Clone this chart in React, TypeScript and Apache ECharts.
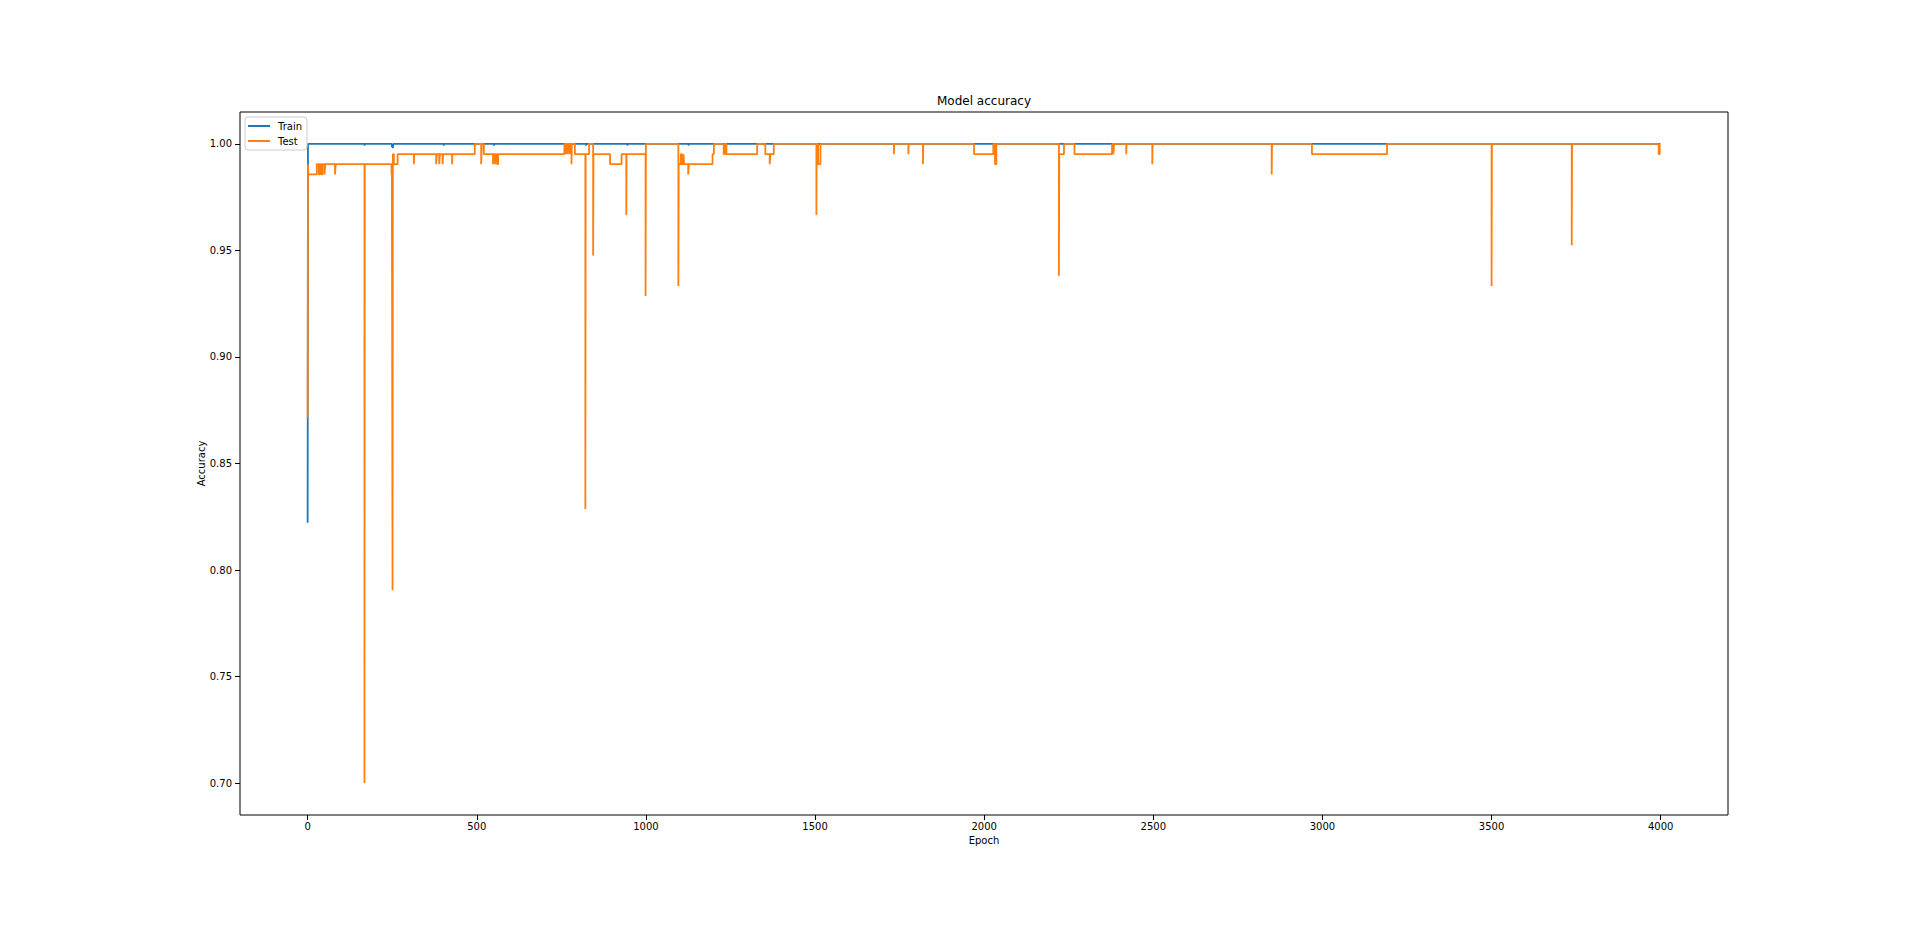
import React, { useEffect, useRef } from 'react';
import * as echarts from 'echarts';

// Tick positions
const xTicks = [0, 500, 1000, 1500, 2000, 2500, 3000, 3500, 4000];
const yTicks = [0.7, 0.75, 0.8, 0.85, 0.9, 0.95, 1.0];

// Train accuracy: [epoch, value] change points (value holds until next point)
const trainSteps: [number, number][] = [
  [0, 0.8222], [1, 1.0], [168, 0.9992], [169, 1.0], [249, 0.9985], [250, 1.0],
  [252, 0.998], [253, 1.0], [402, 0.9992], [403, 1.0], [551, 0.9992], [552, 1.0],
  [823, 0.9993], [824, 1.0], [945, 0.9993], [946, 1.0], [1126, 0.9993], [1127, 1.0],
  [3999, 1.0],
];

// Test accuracy: [epoch, value] change points (value holds until next point)
const testSteps: [number, number][] = [
  [0, 0.8714], [1, 0.9905], [2, 0.9857], [27, 0.9905], [33, 0.9857], [36, 0.9905],
  [41, 0.9857], [44, 0.9905], [50, 0.9857], [52, 0.9905], [81, 0.9857], [83, 0.9905],
  [168, 0.7], [169, 0.9905], [248, 0.9857], [249, 0.9905], [251, 0.7905], [252, 0.9952],
  [255, 0.9905], [266, 0.9952], [314, 0.9905], [315, 0.9952], [380, 0.9905], [382, 0.9952],
  [389, 0.9905], [391, 0.9952], [399, 0.9905], [401, 0.9952], [427, 0.9905], [428, 0.9952],
  [494, 1.0], [513, 0.9905], [515, 1.0], [521, 0.9952], [548, 0.9905], [550, 0.9952],
  [554, 0.9905], [556, 0.9952], [560, 0.9905], [563, 0.9952], [759, 1.0], [764, 0.9952],
  [766, 1.0], [769, 0.9952], [771, 1.0], [775, 0.9952], [777, 1.0], [780, 0.9905],
  [781, 1.0], [790, 0.9952], [821, 0.8286], [822, 0.9952], [832, 1.0], [844, 0.9476],
  [845, 0.9952], [894, 0.9905], [928, 0.9952], [942, 0.9667], [943, 0.9952], [999, 0.9286],
  [1000, 1.0], [1096, 0.9333], [1097, 0.9905], [1103, 0.9952], [1106, 0.9905], [1111, 0.9952],
  [1113, 0.9905], [1125, 0.9857], [1127, 0.9905], [1197, 0.9952], [1201, 1.0], [1230, 0.9952],
  [1234, 1.0], [1238, 0.9952], [1329, 1.0], [1353, 0.9952], [1366, 0.9905], [1368, 0.9952],
  [1378, 1.0], [1504, 0.9667], [1505, 1.0], [1509, 0.9905], [1516, 1.0], [1733, 0.9952],
  [1734, 1.0], [1776, 0.9952], [1777, 1.0], [1819, 0.9905], [1820, 1.0], [1970, 0.9952],
  [2027, 1.0], [2032, 0.9905], [2036, 1.0], [2221, 0.9381], [2222, 0.9952], [2236, 1.0],
  [2267, 0.9952], [2378, 1.0], [2382, 0.9952], [2384, 1.0], [2420, 0.9952], [2421, 1.0],
  [2497, 0.9905], [2498, 1.0], [2850, 0.9857], [2851, 1.0], [2969, 0.9952], [3191, 1.0],
  [3500, 0.9333], [3501, 1.0], [3737, 0.9524], [3738, 1.0], [3994, 0.9952], [3997, 1.0],
  [3999, 1.0],
];

const FONT = 'DejaVu Sans';

export default function App() {
  const ref = useRef<HTMLDivElement>(null);
  useEffect(() => {
    const chart = echarts.init(ref.current as HTMLDivElement, null, { renderer: 'svg' });
    const axisCommon = {
      type: 'value',
      splitLine: { show: false },
      axisLine: { show: false, onZero: false },
    };
    chart.setOption({
      animation: false,
      backgroundColor: '#ffffff',
      grid: {
        left: 240,
        top: 112,
        width: 1488,
        height: 703,
        show: true,
        borderColor: '#000000',
        borderWidth: 1,
        backgroundColor: 'transparent',
      },
      xAxis: {
        ...axisCommon,
        min: -199.95,
        max: 4198.95,
        axisTick: {
          show: true,
          inside: false,
          length: 5,
          lineStyle: { color: '#000', width: 1 },
          customValues: xTicks,
        },
        axisLabel: {
          customValues: xTicks,
          margin: 6,
          fontSize: 10,
          fontFamily: FONT,
          color: '#000',
          formatter: (v: number) => String(v),
        },
      },
      yAxis: {
        ...axisCommon,
        min: 0.685,
        max: 1.015,
        axisTick: {
          show: true,
          inside: false,
          length: 5,
          lineStyle: { color: '#000', width: 1 },
          customValues: yTicks,
        },
        axisLabel: {
          customValues: yTicks,
          margin: 8,
          fontSize: 10,
          fontFamily: FONT,
          color: '#000',
          formatter: (v: number) => v.toFixed(2),
        },
      },
      legend: {
        data: ['Train', 'Test'],
        orient: 'vertical',
        left: 245,
        top: 117,
        icon: 'rect',
        itemWidth: 22,
        itemHeight: 2,
        itemGap: 3,
        padding: [3, 5, 3, 3],
        backgroundColor: 'rgba(255,255,255,0.8)',
        borderColor: '#cccccc',
        borderWidth: 1,
        borderRadius: 3,
        textStyle: {
          fontSize: 10,
          fontFamily: FONT,
          color: '#000',
          lineHeight: 12,
          padding: [0, 0, 0, 3],
        },
      },
      graphic: [
        {
          type: 'text',
          x: 984,
          y: 101,
          style: {
            text: 'Model accuracy',
            align: 'center',
            verticalAlign: 'middle',
            fontSize: 12,
            fontFamily: FONT,
            fill: '#000',
          },
        },
        {
          type: 'text',
          x: 984,
          y: 840,
          style: {
            text: 'Epoch',
            align: 'center',
            verticalAlign: 'middle',
            fontSize: 10,
            fontFamily: FONT,
            fill: '#000',
          },
        },
        {
          type: 'text',
          x: 201,
          y: 463.5,
          rotation: Math.PI / 2,
          style: {
            text: 'Accuracy',
            align: 'center',
            verticalAlign: 'middle',
            fontSize: 10,
            fontFamily: FONT,
            fill: '#000',
          },
        },
      ],
      series: [
        {
          name: 'Train',
          type: 'line',
          step: 'end',
          data: trainSteps,
          showSymbol: false,
          symbol: 'none',
          color: '#1f77b4',
          lineStyle: { color: '#1f77b4', width: 1.8 },
          z: 2,
        },
        {
          name: 'Test',
          type: 'line',
          step: 'end',
          data: testSteps,
          showSymbol: false,
          symbol: 'none',
          color: '#ff7f0e',
          lineStyle: { color: '#ff7f0e', width: 1.8 },
          z: 3,
        },
      ],
    });
    return () => chart.dispose();
  }, []);
  return (
    <div
      ref={ref}
      style={{ position: 'absolute', left: 0, top: 0, width: 1920, height: 932, background: '#fff' }}
    />
  );
}
